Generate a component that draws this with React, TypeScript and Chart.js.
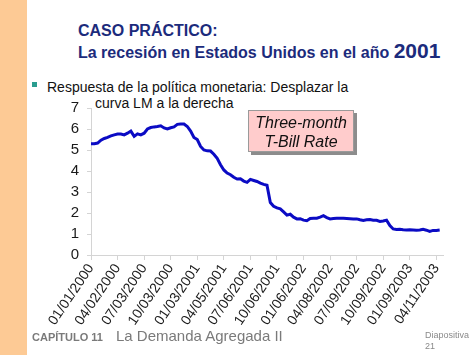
import React, { useEffect, useRef } from "react";
import { Chart, registerables } from "chart.js";

Chart.register(...registerables);

const FONT = "'Liberation Sans', Arial, sans-serif";

// Three-month T-Bill rate, sampled at equal steps (8 samples per labelled tick)
const rates: number[] = [
  5.3, 5.3, 5.33, 5.47, 5.55, 5.6, 5.67, 5.72, 5.76, 5.76,
  5.72, 5.8, 5.9, 5.65, 5.77, 5.72, 5.8, 6.0, 6.07, 6.1,
  6.12, 6.15, 6.05, 6.0, 6.06, 6.1, 6.22, 6.24, 6.24, 6.12,
  5.9, 5.6, 5.5, 5.17, 5.0, 4.96, 4.95, 4.8, 4.6, 4.3,
  4.05, 3.9, 3.82, 3.7, 3.62, 3.63, 3.52, 3.46, 3.6, 3.55,
  3.5, 3.42, 3.36, 3.32, 2.5, 2.32, 2.24, 2.2, 2.05, 1.9,
  1.94, 1.8, 1.72, 1.73, 1.66, 1.63, 1.74, 1.75, 1.75, 1.8,
  1.87, 1.78, 1.72, 1.74, 1.75, 1.75, 1.75, 1.74, 1.73, 1.72,
  1.72, 1.68, 1.65, 1.68, 1.69, 1.66, 1.65, 1.6, 1.62, 1.66,
  1.4, 1.24, 1.21, 1.22, 1.2, 1.19, 1.2, 1.19, 1.18, 1.19,
  1.22, 1.18, 1.12, 1.17, 1.17, 1.19,
];

const tickLabels: string[] = [
  "01/01/2000", "04/02/2000", "07/03/2000", "10/03/2000", "01/03/2001",
  "04/05/2001", "07/06/2001", "10/06/2001", "01/06/2002", "04/08/2002",
  "07/09/2002", "10/09/2002", "01/09/2003", "04/11/2003",
];
const samplesPerLabel = 8;

const yTicks: number[] = [0, 1, 2, 3, 4, 5, 6, 7];

function abs(style: React.CSSProperties): React.CSSProperties {
  return { position: "absolute", whiteSpace: "nowrap", fontFamily: FONT, ...style };
}

export default function App() {
  const ref = useRef<HTMLCanvasElement>(null);

  useEffect(() => {
    if (!ref.current) return;
    const axisColor = "#d4d4d4";
    const chart = new Chart(ref.current, {
      type: "line",
      data: {
        datasets: [
          {
            data: rates.map((v, i) => ({ x: i, y: v })),
            borderColor: "#0b0bc4",
            borderWidth: 3,
            pointRadius: 0,
            tension: 0,
            fill: false,
          },
        ],
      },
      options: {
        animation: false,
        responsive: false,
        maintainAspectRatio: false,
        layout: { padding: { left: 0, top: 108, right: 31, bottom: 0 } },
        plugins: { legend: { display: false }, tooltip: { enabled: false } },
        scales: {
          x: {
            type: "linear",
            min: 0,
            max: rates.length,
            ticks: {
              stepSize: samplesPerLabel,
              includeBounds: false,
              autoSkip: false,
              maxRotation: 56,
              minRotation: 56,
              padding: 1,
              color: "#1a1a1a",
              font: { size: 14, family: FONT },
              callback: (v: any) => {
                const n = Number(v) / samplesPerLabel;
                return Number.isInteger(n) && tickLabels[n] ? tickLabels[n] : "";
              },
            },
            grid: { drawOnChartArea: false, drawTicks: true, tickLength: 5, color: axisColor },
            border: { color: axisColor },
            afterFit: (s: any) => {
              s.height = 100;
            },
          },
          y: {
            min: yTicks[0],
            max: yTicks[yTicks.length - 1],
            ticks: {
              stepSize: 1,
              padding: 8,
              color: "#1a1a1a",
              font: { size: 15, family: FONT },
            },
            grid: { drawOnChartArea: false, drawTicks: true, tickLength: 4, color: axisColor },
            border: { color: axisColor },
            afterFit: (s: any) => {
              s.width = 91;
            },
          },
        },
      },
    });
    return () => chart.destroy();
  }, []);

  return (
    <div
      style={{
        position: "fixed",
        left: 0,
        top: 0,
        width: 474,
        height: 355,
        background: "#ffffff",
        overflow: "hidden",
      }}
    >
      <div style={{ position: "absolute", left: 0, top: 0, width: 27, height: 355, background: "#fdca95" }} />
      <div style={abs({ left: 78, top: 22, fontSize: 16, fontWeight: "bold", color: "#1c2b7c" })}>
        CASO PRÁCTICO:
      </div>
      <div
        style={abs({ left: 78, top: 39, fontSize: 16, lineHeight: "24px", fontWeight: "bold", color: "#1c2b7c" })}
      >
        La recesión en Estados Unidos en el año <span style={{ fontSize: 21 }}>2001</span>
      </div>
      <div style={{ position: "absolute", left: 32, top: 82, width: 5, height: 5, background: "#2a9d8f" }} />
      <div style={abs({ left: 47, top: 79, fontSize: 14, color: "#111" })}>
        Respuesta de la política monetaria: Desplazar la
      </div>
      <div style={abs({ left: 95, top: 95, fontSize: 14, color: "#111" })}>curva LM a la derecha</div>

      <canvas ref={ref} width={474} height={355} style={{ position: "absolute", left: 0, top: 0 }} />

      <div
        style={{
          position: "absolute",
          left: 248,
          top: 110,
          width: 106,
          height: 42,
          background: "#ffcccc",
          border: "1px solid #9a9a9a",
          boxShadow: "3px 3px 0 #8c8c8c",
          fontFamily: FONT,
          fontStyle: "italic",
          fontSize: 16,
          lineHeight: "19px",
          color: "#111",
          textAlign: "center",
          paddingTop: 2,
          boxSizing: "border-box",
        }}
      >
        Three-month
        <br />
        T-Bill Rate
      </div>

      <div style={abs({ left: 32, top: 331, fontSize: 11, fontWeight: "bold", color: "#7a7a7a" })}>
        CAPÍTULO 11
      </div>
      <div style={abs({ left: 116, top: 327, fontSize: 15, color: "#7a7a7a" })}>La Demanda Agregada II</div>
      <div style={abs({ left: 425, top: 330, fontSize: 9, color: "#8a8a8a", lineHeight: "11px" })}>
        Diapositiva
        <br />
        21
      </div>
    </div>
  );
}
